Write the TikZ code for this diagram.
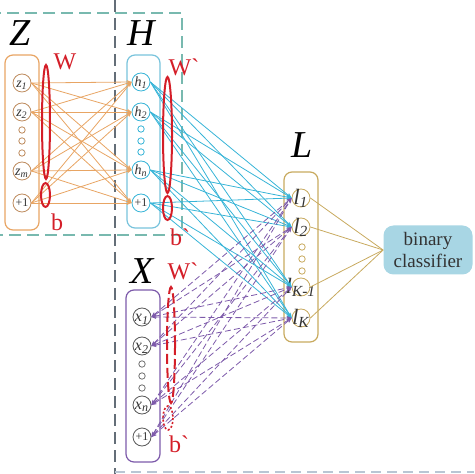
\documentclass[tikz,border=0pt]{standalone}
\usepackage{fontspec}
\setmainfont{Liberation Serif}
\usetikzlibrary{positioning,calc,arrows.meta}
\definecolor{zcol}{RGB}{232,165,100}
\definecolor{zring}{RGB}{190,140,95}
\definecolor{hcol}{RGB}{55,180,215}
\definecolor{hbox}{RGB}{120,195,220}
\definecolor{xcol}{RGB}{125,90,170}
\definecolor{lcol}{RGB}{200,170,95}
\definecolor{wcol}{RGB}{212,30,40}
\definecolor{gcol}{RGB}{100,110,120}
\definecolor{tcol}{RGB}{120,185,175}
\definecolor{bcol}{RGB}{185,198,212}
\definecolor{ccol}{RGB}{168,214,228}
\newcommand{\inn}[1]{\makebox[0pt]{\raisebox{-0.3em}[0pt][0pt]{#1}}}
\tikzset{
  unit/.style={circle,draw,fill=white,minimum size=9pt,inner sep=0pt,text=black!80,font=\fontsize{7}{7}\selectfont\itshape},
  layer/.style={rounded corners=4pt,line width=0.6pt},
  big/.style={font=\fontsize{19}{19}\selectfont\itshape},
  wlbl/.style={text=wcol,font=\fontsize{12}{12}\selectfont},
  tip/.style={-{Stealth[length=2.5pt,width=2pt]}},
  dtip/.style={{Stealth[length=2.5pt,width=2pt]}-{Stealth[length=2.5pt,width=2pt]}}
}
\begin{document}
\begin{tikzpicture}[x=0.5pt,y=-0.5pt,line width=0.4pt]
\useasboundingbox (0,0) rectangle (474,474);
%frames
\draw[tcol,dash pattern=on 6pt off 3pt,line width=0.6pt] (-3,13) rectangle (182,235);
\draw[gcol,dash pattern=on 6pt off 3pt,line width=0.6pt] (115,0)--(115,474);
\draw[bcol,dash pattern=on 5pt off 3pt,line width=1pt] (115,472)--(474,472);
%layers
\draw[layer,zcol] (5,55) rectangle (39,230);
\draw[layer,hbox] (127,55) rectangle (160,228);
\draw[layer,xcol] (126,290) rectangle (160,462);
\draw[layer,lcol] (284,172) rectangle (318,342);
\node[big] (lZ) at (20,33) {Z};
\node[big] (lH) at (141,33) {H};
\node[big] (lX) at (142,271) {X};
\node[big] (lL) at (302,145) {L};
%units
\foreach \n/\y in {1/83,2/112,m/171}
  \node[unit,draw=zring] (z\n) at (22,\y) {\inn{z\textsubscript{\n}}};
\node[unit,draw=zring,font=\fontsize{6}{6}\selectfont] (zb) at (22,203) {\inn{+1}};
\foreach \n/\y in {1/82,2/112,n/170}
  \node[unit,draw=hcol] (h\n) at (141,\y) {\inn{h\textsubscript{\n}}};
\node[unit,draw=hcol,font=\fontsize{6}{6}\selectfont] (hb) at (141,203) {\inn{+1}};
\foreach \n/\y in {1/317,2/346,n/405}
  \node[unit,draw=black!65,font=\fontsize{8}{8}\selectfont\itshape] (x\n) at (142,\y) {\inn{x\textsubscript{\n}}};
\node[unit,draw=black!65,font=\fontsize{6}{6}\selectfont] (xb) at (142,437) {\inn{+1}};
\foreach \n/\t/\y in {1/1/198,2/2/227,k1/K-1/287,k/K/318}
  \node[unit,draw=lcol,font=\fontsize{11}{11}\selectfont\itshape] (l\n) at (301,\y) {\inn{l\textsubscript{\t}}};
\foreach \y in {130,141,153} \draw[zring] (22,\y) circle (1.6pt);
\foreach \y in {129,141,152} \draw[hcol] (141,\y) circle (1.6pt);
\foreach \y in {364,376,388} \draw[black!55] (142,\y) circle (1.6pt);
\foreach \y in {247,259,271} \draw[lcol] (302,\y) circle (1.6pt);
\node[fill=ccol,rounded corners=5pt,minimum width=44.5pt,minimum height=24.5pt,align=center,text=black!80,font=\fontsize{9.5}{11}\selectfont] (cls) at (428,250) {binary\\classifier};
%connections
\foreach \a in {z1,z2,zm,zb}
  \foreach \b in {h1,h2,hn,hb}
    \draw[tip,zcol] (\a.east)--(\b.west);
\foreach \a in {h1,h2,hn,hb}
  \foreach \b in {l1,l2,lk1,lk}
    \draw[tip,hcol] (\a.east)--(\b.west);
\foreach \a in {x1,x2,xn,xb}
  \foreach \b in {l1,l2,lk1,lk}
    \draw[dtip,xcol,dash pattern=on 3pt off 1.5pt] (\a.east)--(\b.west);
\coordinate (in) at (cls.west);
\foreach \b in {l1,l2,lk1,lk}
  \draw[lcol] (\b.east)--(in);
%weights
\draw[wcol,line width=1pt] (46,122) ellipse [x radius=4,y radius=57];
\draw[wcol,line width=1pt] (45.5,195) ellipse [x radius=4.5,y radius=12];
\draw[wcol,line width=1pt] (167.5,135) ellipse [x radius=4.5,y radius=58];
\draw[wcol,line width=1pt] (167.5,208) ellipse [x radius=4.5,y radius=12];
\draw[wcol,line width=1pt,dash pattern=on 5pt off 2pt] (171,345) ellipse [x radius=4,y radius=58];
\draw[wcol,line width=0.8pt,dash pattern=on 1pt off 1pt] (168,418) ellipse [x radius=5,y radius=12];
\node[wlbl] (lW) at (65,62) {W};
\node[wlbl] (lb) at (57,222) {b};
\node[wlbl] (lW1) at (184,67) {W\textasciigrave};
\node[wlbl] (lb1) at (180,237) {b\textasciigrave};
\node[wlbl] (lW2) at (183,271) {W\textasciigrave};
\node[wlbl] (lb2) at (179,444) {b\textasciigrave};
\end{tikzpicture}
\end{document}
